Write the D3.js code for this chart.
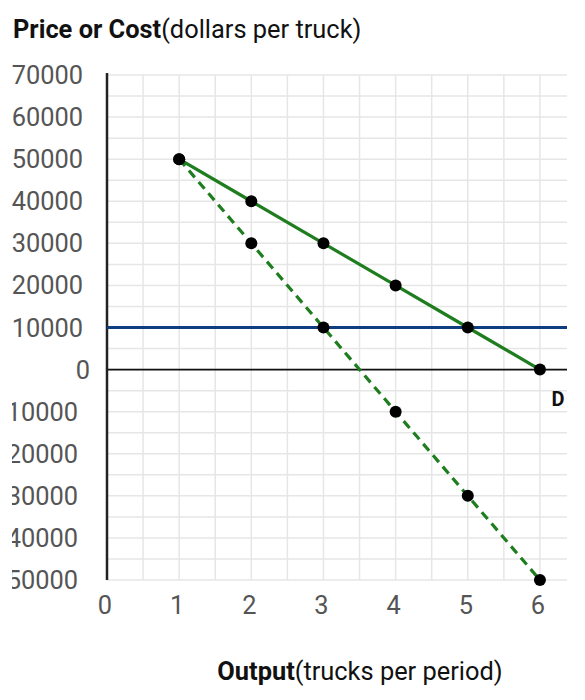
<!DOCTYPE html>
<html>
<head>
<meta charset="utf-8">
<script src="https://cdn.jsdelivr.net/npm/d3@7"></script>
<style>
  html, body { margin: 0; padding: 0; background: #fff; }
  svg { display: block; font-family: Roboto, "Noto Sans", sans-serif; }
</style>
</head>
<body>
<svg id="chart" width="585" height="700"></svg>
<script>
// ---- data ----
const outputs = [1, 2, 3, 4, 5, 6];
const demand = [50000, 40000, 30000, 20000, 10000, 0];
const marginalRevenue = [50000, 30000, 10000, -10000, -30000, -50000];
const marginalCost = 10000;
const xTicks = [0, 1, 2, 3, 4, 5, 6];
const yTicks = [70000, 60000, 50000, 40000, 30000, 20000, 10000, 0, -10000, -20000, -30000, -40000, -50000];
const yTickLabels = ["70000", "60000", "50000", "40000", "30000", "20000", "10000", "0", "-10000", "-20000", "-30000", "-40000", "-50000"];

const svg = d3.select("#chart");
const x = d3.scaleLinear().domain([0, 6.375]).range([107, 567]);
const y = d3.scaleLinear().domain([-50000, 70000]).range([580, 75]);

// clip for left labels
svg.append("defs").append("clipPath").attr("id", "lblclip")
  .append("rect").attr("x", 12).attr("y", 0).attr("width", 573).attr("height", 700);

// grid
const grid = svg.append("g").attr("stroke", "#e6e6e6").attr("stroke-width", 1.5);
grid.selectAll("line.v").data(d3.range(1, 13).map(i => i * 0.5)).join("line")
  .attr("x1", d => x(d)).attr("x2", d => x(d))
  .attr("y1", y(70000)).attr("y2", y(-50000));
grid.selectAll("line.h").data(d3.range(-50000, 70001, 5000)).join("line")
  .attr("x1", x(0)).attr("x2", x(6.375))
  .attr("y1", d => y(d)).attr("y2", d => y(d));

// zero line
svg.append("line").attr("x1", x(0)).attr("x2", x(6.375))
  .attr("y1", y(0)).attr("y2", y(0)).attr("stroke", "#111").attr("stroke-width", 1.6);

// y axis line
svg.append("line").attr("x1", x(0)).attr("x2", x(0))
  .attr("y1", y(70000) - 2).attr("y2", y(-50000))
  .attr("stroke", "#222").attr("stroke-width", 2.5);

// marginal cost line
svg.append("line").attr("x1", x(0)).attr("x2", x(6.375))
  .attr("y1", y(marginalCost)).attr("y2", y(marginalCost))
  .attr("stroke", "#0f3e80").attr("stroke-width", 3.2);

const line = d3.line().x((d, i) => x(outputs[i])).y(d => y(d));
svg.append("path").attr("d", line(marginalRevenue)).attr("fill", "none")
  .attr("stroke", "#1e7d1e").attr("stroke-width", 3.2).attr("stroke-dasharray", "9,6");
svg.append("path").attr("d", line(demand)).attr("fill", "none")
  .attr("stroke", "#1e7d1e").attr("stroke-width", 3.2);

// points
const pts = outputs.map((o, i) => [o, demand[i]]).concat(outputs.map((o, i) => [o, marginalRevenue[i]]));
svg.append("g").selectAll("circle").data(pts).join("circle")
  .attr("cx", d => x(d[0])).attr("cy", d => y(d[1])).attr("r", 6).attr("fill", "#000");

// y tick labels
svg.append("g").attr("clip-path", "url(#lblclip)").selectAll("text").data(yTicks).join("text")
  .attr("x", d => d < 0 ? 78 : (d === 0 ? 90 : 83)).attr("y", d => y(d) + 9).attr("text-anchor", "end")
  .attr("font-size", 25.4).attr("fill", "#555")
  .text((d, i) => yTickLabels[i]);

// x tick labels
svg.append("g").selectAll("text").data(xTicks).join("text")
  .attr("x", d => x(d) - 2).attr("y", 614).attr("text-anchor", "middle")
  .attr("font-size", 25.4).attr("fill", "#555").text(d => d);

// titles
const t = svg.append("text").attr("x", 13).attr("y", 38).attr("font-size", 25.4).attr("fill", "#111");
t.append("tspan").attr("font-weight", "bold").text("Price or Cost");
t.append("tspan").text("(dollars per truck)");

const xt = svg.append("text").attr("x", 360).attr("y", 680).attr("text-anchor", "middle").attr("font-size", 25.4).attr("fill", "#111");
xt.append("tspan").attr("font-weight", "bold").text("Output");
xt.append("tspan").text("(trucks per period)");

svg.append("text").attr("x", 558).attr("y", 406).attr("text-anchor", "middle")
  .attr("font-size", 20).attr("font-weight", "bold").attr("fill", "#111").text("D");
</script>
</body>
</html>
